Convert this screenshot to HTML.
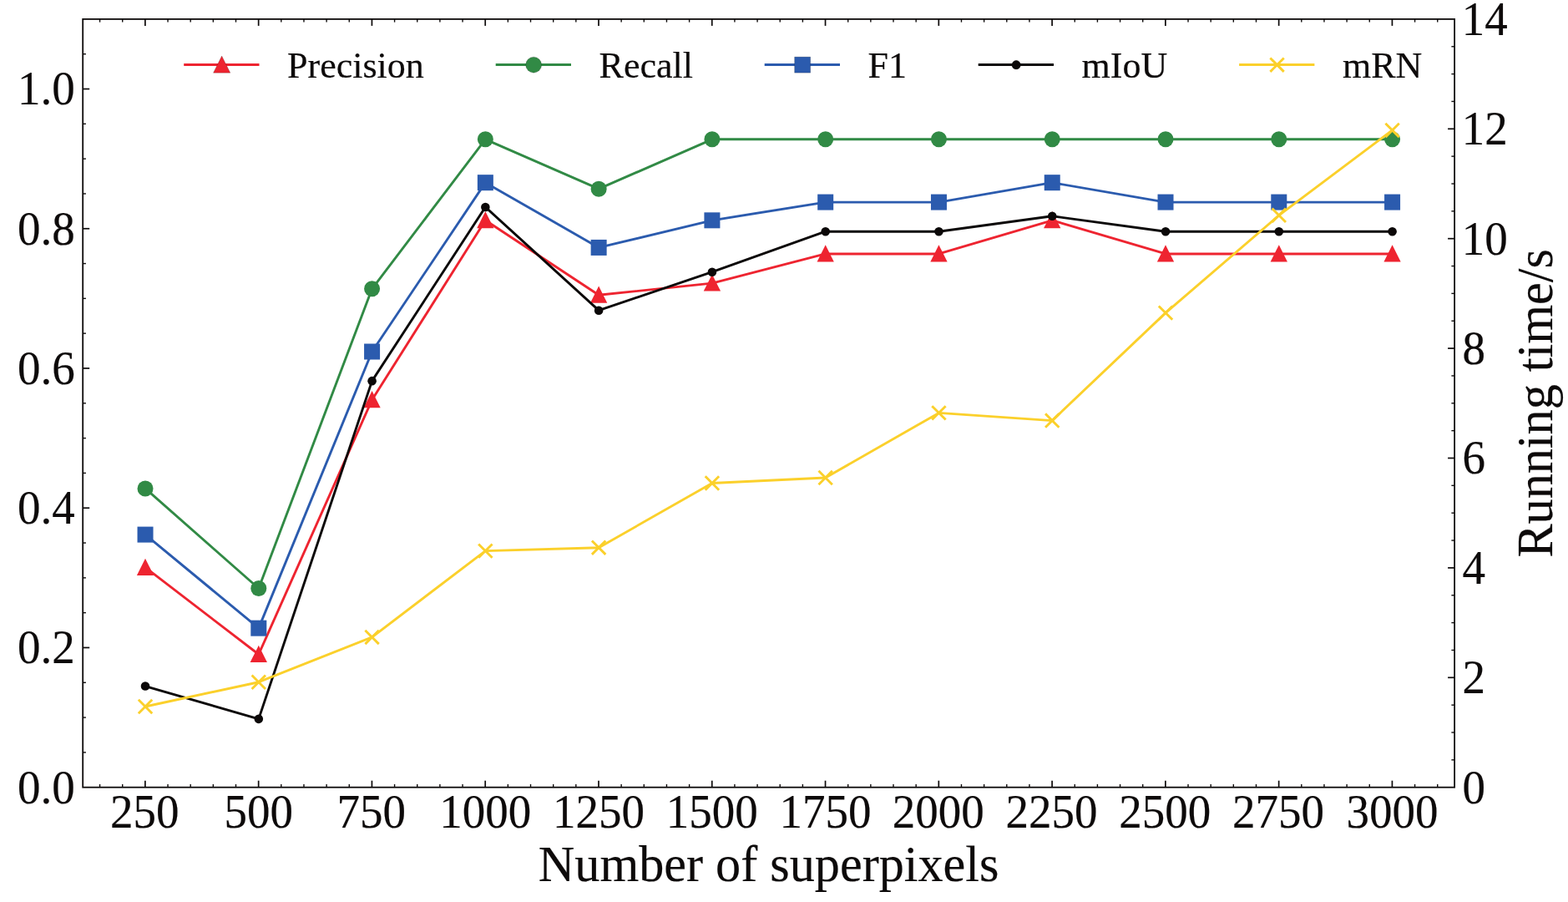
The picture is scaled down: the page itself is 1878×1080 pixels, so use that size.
<!DOCTYPE html>
<html lang="en">
<head>
<meta charset="utf-8">
<title>Metrics vs. number of superpixels</title>
<style>
html,body{margin:0;padding:0;background:#fff;}
body{width:1878px;height:1080px;overflow:hidden;font-family:"Liberation Serif",serif;}
svg{display:block;}
text{white-space:pre;}
</style>
</head>
<body>
<svg width="1878" height="1080" viewBox="0 0 1878 1080" role="img" aria-label="Precision, Recall, F1, mIoU and running time versus number of superpixels">
<rect width="1878" height="1080" fill="#ffffff"/>
<g id="series">
<g><polyline points="174.027,679.403 309.804,783.507 445.581,478.719 581.358,263.82 717.135,353.292 852.912,339.077 988.688,303.957 1124.465,303.957 1260.242,263.82 1396.019,303.957 1531.796,303.957 1667.573,303.957" fill="none" stroke="#ee2430" stroke-width="2.9" stroke-linejoin="round" stroke-linecap="butt"/><polygon points="174.027,668.703 163.877,688.903 184.177,688.903" fill="#ee2430"/><polygon points="309.804,772.807 299.654,793.007 319.954,793.007" fill="#ee2430"/><polygon points="445.581,468.019 435.431,488.219 455.731,488.219" fill="#ee2430"/><polygon points="581.358,253.12 571.208,273.32 591.508,273.32" fill="#ee2430"/><polygon points="717.135,342.592 706.985,362.792 727.285,362.792" fill="#ee2430"/><polygon points="852.912,328.377 842.762,348.577 863.062,348.577" fill="#ee2430"/><polygon points="988.688,293.257 978.538,313.457 998.838,313.457" fill="#ee2430"/><polygon points="1124.465,293.257 1114.315,313.457 1134.615,313.457" fill="#ee2430"/><polygon points="1260.242,253.12 1250.092,273.32 1270.392,273.32" fill="#ee2430"/><polygon points="1396.019,293.257 1385.869,313.457 1406.169,313.457" fill="#ee2430"/><polygon points="1531.796,293.257 1521.646,313.457 1541.946,313.457" fill="#ee2430"/><polygon points="1667.573,293.257 1657.423,313.457 1677.723,313.457" fill="#ee2430"/></g>
<g><polyline points="174.027,584.914 309.804,704.488 445.581,345.766 581.358,166.823 717.135,226.192 852.912,166.823 988.688,166.823 1124.465,166.823 1260.242,166.823 1396.019,166.823 1531.796,166.823 1667.573,166.823" fill="none" stroke="#318a45" stroke-width="2.9" stroke-linejoin="round" stroke-linecap="butt"/><circle cx="174.027" cy="584.914" r="9.5" fill="#318a45"/><circle cx="309.804" cy="704.488" r="9.5" fill="#318a45"/><circle cx="445.581" cy="345.766" r="9.5" fill="#318a45"/><circle cx="581.358" cy="166.823" r="9.5" fill="#318a45"/><circle cx="717.135" cy="226.192" r="9.5" fill="#318a45"/><circle cx="852.912" cy="166.823" r="9.5" fill="#318a45"/><circle cx="988.688" cy="166.823" r="9.5" fill="#318a45"/><circle cx="1124.465" cy="166.823" r="9.5" fill="#318a45"/><circle cx="1260.242" cy="166.823" r="9.5" fill="#318a45"/><circle cx="1396.019" cy="166.823" r="9.5" fill="#318a45"/><circle cx="1531.796" cy="166.823" r="9.5" fill="#318a45"/><circle cx="1667.573" cy="166.823" r="9.5" fill="#318a45"/></g>
<g><polyline points="174.027,640.102 309.804,752.151 445.581,421.023 581.358,218.667 717.135,296.431 852.912,263.82 988.688,242.08 1124.465,242.08 1260.242,218.667 1396.019,242.08 1531.796,242.08 1667.573,242.08" fill="none" stroke="#2b5bae" stroke-width="2.9" stroke-linejoin="round" stroke-linecap="butt"/><rect x="164.527" y="630.602" width="19" height="19" fill="#2b5bae"/><rect x="300.304" y="742.651" width="19" height="19" fill="#2b5bae"/><rect x="436.081" y="411.523" width="19" height="19" fill="#2b5bae"/><rect x="571.858" y="209.167" width="19" height="19" fill="#2b5bae"/><rect x="707.635" y="286.931" width="19" height="19" fill="#2b5bae"/><rect x="843.412" y="254.32" width="19" height="19" fill="#2b5bae"/><rect x="979.188" y="232.58" width="19" height="19" fill="#2b5bae"/><rect x="1114.965" y="232.58" width="19" height="19" fill="#2b5bae"/><rect x="1250.742" y="209.167" width="19" height="19" fill="#2b5bae"/><rect x="1386.519" y="232.58" width="19" height="19" fill="#2b5bae"/><rect x="1522.296" y="232.58" width="19" height="19" fill="#2b5bae"/><rect x="1658.073" y="232.58" width="19" height="19" fill="#2b5bae"/></g>
<g><polyline points="174.027,821.554 309.804,860.854 445.581,456.142 581.358,247.933 717.135,371.688 852.912,325.698 988.688,277.199 1124.465,277.199 1260.242,258.803 1396.019,277.199 1531.796,277.199 1667.573,277.199" fill="none" stroke="#0b0808" stroke-width="2.9" stroke-linejoin="round" stroke-linecap="butt"/><circle cx="174.027" cy="821.554" r="5.3" fill="#0b0808"/><circle cx="309.804" cy="860.854" r="5.3" fill="#0b0808"/><circle cx="445.581" cy="456.142" r="5.3" fill="#0b0808"/><circle cx="581.358" cy="247.933" r="5.3" fill="#0b0808"/><circle cx="717.135" cy="371.688" r="5.3" fill="#0b0808"/><circle cx="852.912" cy="325.698" r="5.3" fill="#0b0808"/><circle cx="988.688" cy="277.199" r="5.3" fill="#0b0808"/><circle cx="1124.465" cy="277.199" r="5.3" fill="#0b0808"/><circle cx="1260.242" cy="258.803" r="5.3" fill="#0b0808"/><circle cx="1396.019" cy="277.199" r="5.3" fill="#0b0808"/><circle cx="1531.796" cy="277.199" r="5.3" fill="#0b0808"/><circle cx="1667.573" cy="277.199" r="5.3" fill="#0b0808"/></g>
<g><polyline points="174.027,846.024 309.804,816.722 445.581,762.913 581.358,659.633 717.135,655.691 852.912,578.494 988.688,571.989 1124.465,494.398 1260.242,503.596 1396.019,374.626 1531.796,257.812 1667.573,155.911" fill="none" stroke="#fbd02b" stroke-width="2.9" stroke-linejoin="round" stroke-linecap="butt"/><path d="M165.827 837.824L182.227 854.224M165.827 854.224L182.227 837.824" stroke="#fbd02b" stroke-width="2.9" fill="none" stroke-linecap="butt"/><path d="M301.604 808.522L318.004 824.922M301.604 824.922L318.004 808.522" stroke="#fbd02b" stroke-width="2.9" fill="none" stroke-linecap="butt"/><path d="M437.381 754.713L453.781 771.113M437.381 771.113L453.781 754.713" stroke="#fbd02b" stroke-width="2.9" fill="none" stroke-linecap="butt"/><path d="M573.158 651.433L589.558 667.833M573.158 667.833L589.558 651.433" stroke="#fbd02b" stroke-width="2.9" fill="none" stroke-linecap="butt"/><path d="M708.935 647.491L725.335 663.891M708.935 663.891L725.335 647.491" stroke="#fbd02b" stroke-width="2.9" fill="none" stroke-linecap="butt"/><path d="M844.712 570.293L861.112 586.694M844.712 586.694L861.112 570.293" stroke="#fbd02b" stroke-width="2.9" fill="none" stroke-linecap="butt"/><path d="M980.488 563.789L996.888 580.189M980.488 580.189L996.888 563.789" stroke="#fbd02b" stroke-width="2.9" fill="none" stroke-linecap="butt"/><path d="M1116.265 486.198L1132.665 502.598M1116.265 502.598L1132.665 486.198" stroke="#fbd02b" stroke-width="2.9" fill="none" stroke-linecap="butt"/><path d="M1252.042 495.396L1268.442 511.796M1252.042 511.796L1268.442 495.396" stroke="#fbd02b" stroke-width="2.9" fill="none" stroke-linecap="butt"/><path d="M1387.819 366.426L1404.219 382.826M1387.819 382.826L1404.219 366.426" stroke="#fbd02b" stroke-width="2.9" fill="none" stroke-linecap="butt"/><path d="M1523.596 249.612L1539.996 266.012M1523.596 266.012L1539.996 249.612" stroke="#fbd02b" stroke-width="2.9" fill="none" stroke-linecap="butt"/><path d="M1659.373 147.711L1675.773 164.111M1659.373 164.111L1675.773 147.711" stroke="#fbd02b" stroke-width="2.9" fill="none" stroke-linecap="butt"/></g>
</g>
<g stroke="#0d0a0a" stroke-linecap="butt"><line x1="119.567" y1="942.7" x2="119.567" y2="939" stroke-width="1.4"/><line x1="119.567" y1="22.9" x2="119.567" y2="26.6" stroke-width="1.4"/><line x1="146.722" y1="942.7" x2="146.722" y2="939" stroke-width="1.4"/><line x1="146.722" y1="22.9" x2="146.722" y2="26.6" stroke-width="1.4"/><line x1="173.877" y1="942.7" x2="173.877" y2="934.7" stroke-width="1.7"/><line x1="173.877" y1="22.9" x2="173.877" y2="30.9" stroke-width="1.7"/><line x1="201.033" y1="942.7" x2="201.033" y2="939" stroke-width="1.4"/><line x1="201.033" y1="22.9" x2="201.033" y2="26.6" stroke-width="1.4"/><line x1="228.188" y1="942.7" x2="228.188" y2="939" stroke-width="1.4"/><line x1="228.188" y1="22.9" x2="228.188" y2="26.6" stroke-width="1.4"/><line x1="255.343" y1="942.7" x2="255.343" y2="939" stroke-width="1.4"/><line x1="255.343" y1="22.9" x2="255.343" y2="26.6" stroke-width="1.4"/><line x1="282.499" y1="942.7" x2="282.499" y2="939" stroke-width="1.4"/><line x1="282.499" y1="22.9" x2="282.499" y2="26.6" stroke-width="1.4"/><line x1="309.654" y1="942.7" x2="309.654" y2="934.7" stroke-width="1.7"/><line x1="309.654" y1="22.9" x2="309.654" y2="30.9" stroke-width="1.7"/><line x1="336.81" y1="942.7" x2="336.81" y2="939" stroke-width="1.4"/><line x1="336.81" y1="22.9" x2="336.81" y2="26.6" stroke-width="1.4"/><line x1="363.965" y1="942.7" x2="363.965" y2="939" stroke-width="1.4"/><line x1="363.965" y1="22.9" x2="363.965" y2="26.6" stroke-width="1.4"/><line x1="391.12" y1="942.7" x2="391.12" y2="939" stroke-width="1.4"/><line x1="391.12" y1="22.9" x2="391.12" y2="26.6" stroke-width="1.4"/><line x1="418.276" y1="942.7" x2="418.276" y2="939" stroke-width="1.4"/><line x1="418.276" y1="22.9" x2="418.276" y2="26.6" stroke-width="1.4"/><line x1="445.431" y1="942.7" x2="445.431" y2="934.7" stroke-width="1.7"/><line x1="445.431" y1="22.9" x2="445.431" y2="30.9" stroke-width="1.7"/><line x1="472.586" y1="942.7" x2="472.586" y2="939" stroke-width="1.4"/><line x1="472.586" y1="22.9" x2="472.586" y2="26.6" stroke-width="1.4"/><line x1="499.742" y1="942.7" x2="499.742" y2="939" stroke-width="1.4"/><line x1="499.742" y1="22.9" x2="499.742" y2="26.6" stroke-width="1.4"/><line x1="526.897" y1="942.7" x2="526.897" y2="939" stroke-width="1.4"/><line x1="526.897" y1="22.9" x2="526.897" y2="26.6" stroke-width="1.4"/><line x1="554.052" y1="942.7" x2="554.052" y2="939" stroke-width="1.4"/><line x1="554.052" y1="22.9" x2="554.052" y2="26.6" stroke-width="1.4"/><line x1="581.208" y1="942.7" x2="581.208" y2="934.7" stroke-width="1.7"/><line x1="581.208" y1="22.9" x2="581.208" y2="30.9" stroke-width="1.7"/><line x1="608.363" y1="942.7" x2="608.363" y2="939" stroke-width="1.4"/><line x1="608.363" y1="22.9" x2="608.363" y2="26.6" stroke-width="1.4"/><line x1="635.519" y1="942.7" x2="635.519" y2="939" stroke-width="1.4"/><line x1="635.519" y1="22.9" x2="635.519" y2="26.6" stroke-width="1.4"/><line x1="662.674" y1="942.7" x2="662.674" y2="939" stroke-width="1.4"/><line x1="662.674" y1="22.9" x2="662.674" y2="26.6" stroke-width="1.4"/><line x1="689.829" y1="942.7" x2="689.829" y2="939" stroke-width="1.4"/><line x1="689.829" y1="22.9" x2="689.829" y2="26.6" stroke-width="1.4"/><line x1="716.985" y1="942.7" x2="716.985" y2="934.7" stroke-width="1.7"/><line x1="716.985" y1="22.9" x2="716.985" y2="30.9" stroke-width="1.7"/><line x1="744.14" y1="942.7" x2="744.14" y2="939" stroke-width="1.4"/><line x1="744.14" y1="22.9" x2="744.14" y2="26.6" stroke-width="1.4"/><line x1="771.295" y1="942.7" x2="771.295" y2="939" stroke-width="1.4"/><line x1="771.295" y1="22.9" x2="771.295" y2="26.6" stroke-width="1.4"/><line x1="798.451" y1="942.7" x2="798.451" y2="939" stroke-width="1.4"/><line x1="798.451" y1="22.9" x2="798.451" y2="26.6" stroke-width="1.4"/><line x1="825.606" y1="942.7" x2="825.606" y2="939" stroke-width="1.4"/><line x1="825.606" y1="22.9" x2="825.606" y2="26.6" stroke-width="1.4"/><line x1="852.762" y1="942.7" x2="852.762" y2="934.7" stroke-width="1.7"/><line x1="852.762" y1="22.9" x2="852.762" y2="30.9" stroke-width="1.7"/><line x1="879.917" y1="942.7" x2="879.917" y2="939" stroke-width="1.4"/><line x1="879.917" y1="22.9" x2="879.917" y2="26.6" stroke-width="1.4"/><line x1="907.072" y1="942.7" x2="907.072" y2="939" stroke-width="1.4"/><line x1="907.072" y1="22.9" x2="907.072" y2="26.6" stroke-width="1.4"/><line x1="934.228" y1="942.7" x2="934.228" y2="939" stroke-width="1.4"/><line x1="934.228" y1="22.9" x2="934.228" y2="26.6" stroke-width="1.4"/><line x1="961.383" y1="942.7" x2="961.383" y2="939" stroke-width="1.4"/><line x1="961.383" y1="22.9" x2="961.383" y2="26.6" stroke-width="1.4"/><line x1="988.538" y1="942.7" x2="988.538" y2="934.7" stroke-width="1.7"/><line x1="988.538" y1="22.9" x2="988.538" y2="30.9" stroke-width="1.7"/><line x1="1015.694" y1="942.7" x2="1015.694" y2="939" stroke-width="1.4"/><line x1="1015.694" y1="22.9" x2="1015.694" y2="26.6" stroke-width="1.4"/><line x1="1042.849" y1="942.7" x2="1042.849" y2="939" stroke-width="1.4"/><line x1="1042.849" y1="22.9" x2="1042.849" y2="26.6" stroke-width="1.4"/><line x1="1070.005" y1="942.7" x2="1070.005" y2="939" stroke-width="1.4"/><line x1="1070.005" y1="22.9" x2="1070.005" y2="26.6" stroke-width="1.4"/><line x1="1097.16" y1="942.7" x2="1097.16" y2="939" stroke-width="1.4"/><line x1="1097.16" y1="22.9" x2="1097.16" y2="26.6" stroke-width="1.4"/><line x1="1124.315" y1="942.7" x2="1124.315" y2="934.7" stroke-width="1.7"/><line x1="1124.315" y1="22.9" x2="1124.315" y2="30.9" stroke-width="1.7"/><line x1="1151.471" y1="942.7" x2="1151.471" y2="939" stroke-width="1.4"/><line x1="1151.471" y1="22.9" x2="1151.471" y2="26.6" stroke-width="1.4"/><line x1="1178.626" y1="942.7" x2="1178.626" y2="939" stroke-width="1.4"/><line x1="1178.626" y1="22.9" x2="1178.626" y2="26.6" stroke-width="1.4"/><line x1="1205.781" y1="942.7" x2="1205.781" y2="939" stroke-width="1.4"/><line x1="1205.781" y1="22.9" x2="1205.781" y2="26.6" stroke-width="1.4"/><line x1="1232.937" y1="942.7" x2="1232.937" y2="939" stroke-width="1.4"/><line x1="1232.937" y1="22.9" x2="1232.937" y2="26.6" stroke-width="1.4"/><line x1="1260.092" y1="942.7" x2="1260.092" y2="934.7" stroke-width="1.7"/><line x1="1260.092" y1="22.9" x2="1260.092" y2="30.9" stroke-width="1.7"/><line x1="1287.248" y1="942.7" x2="1287.248" y2="939" stroke-width="1.4"/><line x1="1287.248" y1="22.9" x2="1287.248" y2="26.6" stroke-width="1.4"/><line x1="1314.403" y1="942.7" x2="1314.403" y2="939" stroke-width="1.4"/><line x1="1314.403" y1="22.9" x2="1314.403" y2="26.6" stroke-width="1.4"/><line x1="1341.558" y1="942.7" x2="1341.558" y2="939" stroke-width="1.4"/><line x1="1341.558" y1="22.9" x2="1341.558" y2="26.6" stroke-width="1.4"/><line x1="1368.714" y1="942.7" x2="1368.714" y2="939" stroke-width="1.4"/><line x1="1368.714" y1="22.9" x2="1368.714" y2="26.6" stroke-width="1.4"/><line x1="1395.869" y1="942.7" x2="1395.869" y2="934.7" stroke-width="1.7"/><line x1="1395.869" y1="22.9" x2="1395.869" y2="30.9" stroke-width="1.7"/><line x1="1423.024" y1="942.7" x2="1423.024" y2="939" stroke-width="1.4"/><line x1="1423.024" y1="22.9" x2="1423.024" y2="26.6" stroke-width="1.4"/><line x1="1450.18" y1="942.7" x2="1450.18" y2="939" stroke-width="1.4"/><line x1="1450.18" y1="22.9" x2="1450.18" y2="26.6" stroke-width="1.4"/><line x1="1477.335" y1="942.7" x2="1477.335" y2="939" stroke-width="1.4"/><line x1="1477.335" y1="22.9" x2="1477.335" y2="26.6" stroke-width="1.4"/><line x1="1504.49" y1="942.7" x2="1504.49" y2="939" stroke-width="1.4"/><line x1="1504.49" y1="22.9" x2="1504.49" y2="26.6" stroke-width="1.4"/><line x1="1531.646" y1="942.7" x2="1531.646" y2="934.7" stroke-width="1.7"/><line x1="1531.646" y1="22.9" x2="1531.646" y2="30.9" stroke-width="1.7"/><line x1="1558.801" y1="942.7" x2="1558.801" y2="939" stroke-width="1.4"/><line x1="1558.801" y1="22.9" x2="1558.801" y2="26.6" stroke-width="1.4"/><line x1="1585.957" y1="942.7" x2="1585.957" y2="939" stroke-width="1.4"/><line x1="1585.957" y1="22.9" x2="1585.957" y2="26.6" stroke-width="1.4"/><line x1="1613.112" y1="942.7" x2="1613.112" y2="939" stroke-width="1.4"/><line x1="1613.112" y1="22.9" x2="1613.112" y2="26.6" stroke-width="1.4"/><line x1="1640.267" y1="942.7" x2="1640.267" y2="939" stroke-width="1.4"/><line x1="1640.267" y1="22.9" x2="1640.267" y2="26.6" stroke-width="1.4"/><line x1="1667.423" y1="942.7" x2="1667.423" y2="934.7" stroke-width="1.7"/><line x1="1667.423" y1="22.9" x2="1667.423" y2="30.9" stroke-width="1.7"/><line x1="1694.578" y1="942.7" x2="1694.578" y2="939" stroke-width="1.4"/><line x1="1694.578" y1="22.9" x2="1694.578" y2="26.6" stroke-width="1.4"/><line x1="1721.733" y1="942.7" x2="1721.733" y2="939" stroke-width="1.4"/><line x1="1721.733" y1="22.9" x2="1721.733" y2="26.6" stroke-width="1.4"/><line x1="99.2" y1="900.891" x2="102.9" y2="900.891" stroke-width="1.4"/><line x1="99.2" y1="859.082" x2="102.9" y2="859.082" stroke-width="1.4"/><line x1="99.2" y1="817.273" x2="102.9" y2="817.273" stroke-width="1.4"/><line x1="99.2" y1="775.464" x2="107.2" y2="775.464" stroke-width="1.7"/><line x1="99.2" y1="733.655" x2="102.9" y2="733.655" stroke-width="1.4"/><line x1="99.2" y1="691.845" x2="102.9" y2="691.845" stroke-width="1.4"/><line x1="99.2" y1="650.036" x2="102.9" y2="650.036" stroke-width="1.4"/><line x1="99.2" y1="608.227" x2="107.2" y2="608.227" stroke-width="1.7"/><line x1="99.2" y1="566.418" x2="102.9" y2="566.418" stroke-width="1.4"/><line x1="99.2" y1="524.609" x2="102.9" y2="524.609" stroke-width="1.4"/><line x1="99.2" y1="482.8" x2="102.9" y2="482.8" stroke-width="1.4"/><line x1="99.2" y1="440.991" x2="107.2" y2="440.991" stroke-width="1.7"/><line x1="99.2" y1="399.182" x2="102.9" y2="399.182" stroke-width="1.4"/><line x1="99.2" y1="357.373" x2="102.9" y2="357.373" stroke-width="1.4"/><line x1="99.2" y1="315.564" x2="102.9" y2="315.564" stroke-width="1.4"/><line x1="99.2" y1="273.755" x2="107.2" y2="273.755" stroke-width="1.7"/><line x1="99.2" y1="231.945" x2="102.9" y2="231.945" stroke-width="1.4"/><line x1="99.2" y1="190.136" x2="102.9" y2="190.136" stroke-width="1.4"/><line x1="99.2" y1="148.327" x2="102.9" y2="148.327" stroke-width="1.4"/><line x1="99.2" y1="106.518" x2="107.2" y2="106.518" stroke-width="1.7"/><line x1="99.2" y1="64.709" x2="102.9" y2="64.709" stroke-width="1.4"/><line x1="1742.1" y1="909.85" x2="1738.4" y2="909.85" stroke-width="1.4"/><line x1="1742.1" y1="877" x2="1738.4" y2="877" stroke-width="1.4"/><line x1="1742.1" y1="844.15" x2="1738.4" y2="844.15" stroke-width="1.4"/><line x1="1742.1" y1="811.3" x2="1734.1" y2="811.3" stroke-width="1.7"/><line x1="1742.1" y1="778.45" x2="1738.4" y2="778.45" stroke-width="1.4"/><line x1="1742.1" y1="745.6" x2="1738.4" y2="745.6" stroke-width="1.4"/><line x1="1742.1" y1="712.75" x2="1738.4" y2="712.75" stroke-width="1.4"/><line x1="1742.1" y1="679.9" x2="1734.1" y2="679.9" stroke-width="1.7"/><line x1="1742.1" y1="647.05" x2="1738.4" y2="647.05" stroke-width="1.4"/><line x1="1742.1" y1="614.2" x2="1738.4" y2="614.2" stroke-width="1.4"/><line x1="1742.1" y1="581.35" x2="1738.4" y2="581.35" stroke-width="1.4"/><line x1="1742.1" y1="548.5" x2="1734.1" y2="548.5" stroke-width="1.7"/><line x1="1742.1" y1="515.65" x2="1738.4" y2="515.65" stroke-width="1.4"/><line x1="1742.1" y1="482.8" x2="1738.4" y2="482.8" stroke-width="1.4"/><line x1="1742.1" y1="449.95" x2="1738.4" y2="449.95" stroke-width="1.4"/><line x1="1742.1" y1="417.1" x2="1734.1" y2="417.1" stroke-width="1.7"/><line x1="1742.1" y1="384.25" x2="1738.4" y2="384.25" stroke-width="1.4"/><line x1="1742.1" y1="351.4" x2="1738.4" y2="351.4" stroke-width="1.4"/><line x1="1742.1" y1="318.55" x2="1738.4" y2="318.55" stroke-width="1.4"/><line x1="1742.1" y1="285.7" x2="1734.1" y2="285.7" stroke-width="1.7"/><line x1="1742.1" y1="252.85" x2="1738.4" y2="252.85" stroke-width="1.4"/><line x1="1742.1" y1="220" x2="1738.4" y2="220" stroke-width="1.4"/><line x1="1742.1" y1="187.15" x2="1738.4" y2="187.15" stroke-width="1.4"/><line x1="1742.1" y1="154.3" x2="1734.1" y2="154.3" stroke-width="1.7"/><line x1="1742.1" y1="121.45" x2="1738.4" y2="121.45" stroke-width="1.4"/><line x1="1742.1" y1="88.6" x2="1738.4" y2="88.6" stroke-width="1.4"/><line x1="1742.1" y1="55.75" x2="1738.4" y2="55.75" stroke-width="1.4"/></g>
<rect x="99.2" y="22.9" width="1642.9" height="919.8" fill="none" stroke="#0d0a0a" stroke-width="1.8"/>
<g font-family='"Liberation Serif", "Times New Roman", Times, serif' fill="#0d0a0a" stroke="#0d0a0a" stroke-width="0.2" stroke-linejoin="round">
<text transform="translate(89.8 961.5) scale(1 1.025)" font-size="55" text-anchor="end">0.0</text>
<text transform="translate(89.8 794.264) scale(1 1.025)" font-size="55" text-anchor="end">0.2</text>
<text transform="translate(89.8 627.027) scale(1 1.025)" font-size="55" text-anchor="end">0.4</text>
<text transform="translate(89.8 459.791) scale(1 1.025)" font-size="55" text-anchor="end">0.6</text>
<text transform="translate(89.8 292.555) scale(1 1.025)" font-size="55" text-anchor="end">0.8</text>
<text transform="translate(89.8 125.318) scale(1 1.025)" font-size="55" text-anchor="end">1.0</text>
<text transform="translate(1751.5 961.5) scale(1 1.025)" font-size="55" text-anchor="start">0</text>
<text transform="translate(1751.5 830.1) scale(1 1.025)" font-size="55" text-anchor="start">2</text>
<text transform="translate(1751.5 698.7) scale(1 1.025)" font-size="55" text-anchor="start">4</text>
<text transform="translate(1751.5 567.3) scale(1 1.025)" font-size="55" text-anchor="start">6</text>
<text transform="translate(1751.5 435.9) scale(1 1.025)" font-size="55" text-anchor="start">8</text>
<text transform="translate(1750.7 304.5) scale(1 1.025)" font-size="55" text-anchor="start">10</text>
<text transform="translate(1750.7 173.1) scale(1 1.025)" font-size="55" text-anchor="start">12</text>
<text transform="translate(1750.7 41.7) scale(1 1.025)" font-size="55" text-anchor="start">14</text>
<text transform="translate(173.277 990.5) scale(1 1.025)" font-size="55" text-anchor="middle">250</text>
<text transform="translate(309.654 990.5) scale(1 1.025)" font-size="55" text-anchor="middle">500</text>
<text transform="translate(444.831 990.5) scale(1 1.025)" font-size="55" text-anchor="middle">750</text>
<text transform="translate(581.208 990.5) scale(1 1.025)" font-size="55" text-anchor="middle">1000</text>
<text transform="translate(716.985 990.5) scale(1 1.025)" font-size="55" text-anchor="middle">1250</text>
<text transform="translate(852.762 990.5) scale(1 1.025)" font-size="55" text-anchor="middle">1500</text>
<text transform="translate(988.538 990.5) scale(1 1.025)" font-size="55" text-anchor="middle">1750</text>
<text transform="translate(1123.715 990.5) scale(1 1.025)" font-size="55" text-anchor="middle">2000</text>
<text transform="translate(1259.492 990.5) scale(1 1.025)" font-size="55" text-anchor="middle">2250</text>
<text transform="translate(1395.269 990.5) scale(1 1.025)" font-size="55" text-anchor="middle">2500</text>
<text transform="translate(1531.046 990.5) scale(1 1.025)" font-size="55" text-anchor="middle">2750</text>
<text transform="translate(1667.423 990.5) scale(1 1.025)" font-size="55" text-anchor="middle">3000</text>
<text transform="translate(920.65 1055.2) scale(1 1.02)" font-size="60.2" text-anchor="middle">Number of superpixels</text>
<text transform="translate(1859.2 482.8) rotate(-90) scale(1 1.02)" font-size="60.2" text-anchor="middle">Running time/s</text>
<line x1="220.2" y1="77.55" x2="310.5" y2="77.55" stroke="#ee2430" stroke-width="2.9"/>
<polygon points="265.65,66.95 255.5,87.15 275.8,87.15" fill="#ee2430"/>
<text transform="translate(344.1 93.3) scale(1 1.02)" font-size="44" text-anchor="start">Precision</text>
<line x1="593.7" y1="77.55" x2="684" y2="77.55" stroke="#318a45" stroke-width="2.9"/>
<circle cx="639.15" cy="77.65" r="9.5" fill="#318a45"/>
<text transform="translate(717.6 93.3) scale(1 1.02)" font-size="44" text-anchor="start">Recall</text>
<line x1="915.7" y1="77.55" x2="1006" y2="77.55" stroke="#2b5bae" stroke-width="2.9"/>
<rect x="951.65" y="68.15" width="19" height="19" fill="#2b5bae"/>
<text transform="translate(1039.6 93.3) scale(1 1.02)" font-size="44" text-anchor="start">F1</text>
<line x1="1171.7" y1="77.55" x2="1262" y2="77.55" stroke="#0b0808" stroke-width="2.9"/>
<circle cx="1217.15" cy="77.65" r="5.3" fill="#0b0808"/>
<text transform="translate(1295.6 93.3) scale(1 1.02)" font-size="44" text-anchor="start">mIoU</text>
<line x1="1484.1" y1="77.55" x2="1574.4" y2="77.55" stroke="#fbd02b" stroke-width="2.9"/>
<path d="M1521.35 69.45L1537.75 85.85M1521.35 85.85L1537.75 69.45" stroke="#fbd02b" stroke-width="2.9" fill="none" stroke-linecap="butt"/>
<text transform="translate(1608 93.3) scale(1 1.02)" font-size="44" text-anchor="start">mRN</text>
</g>
</svg>
</body>
</html>
